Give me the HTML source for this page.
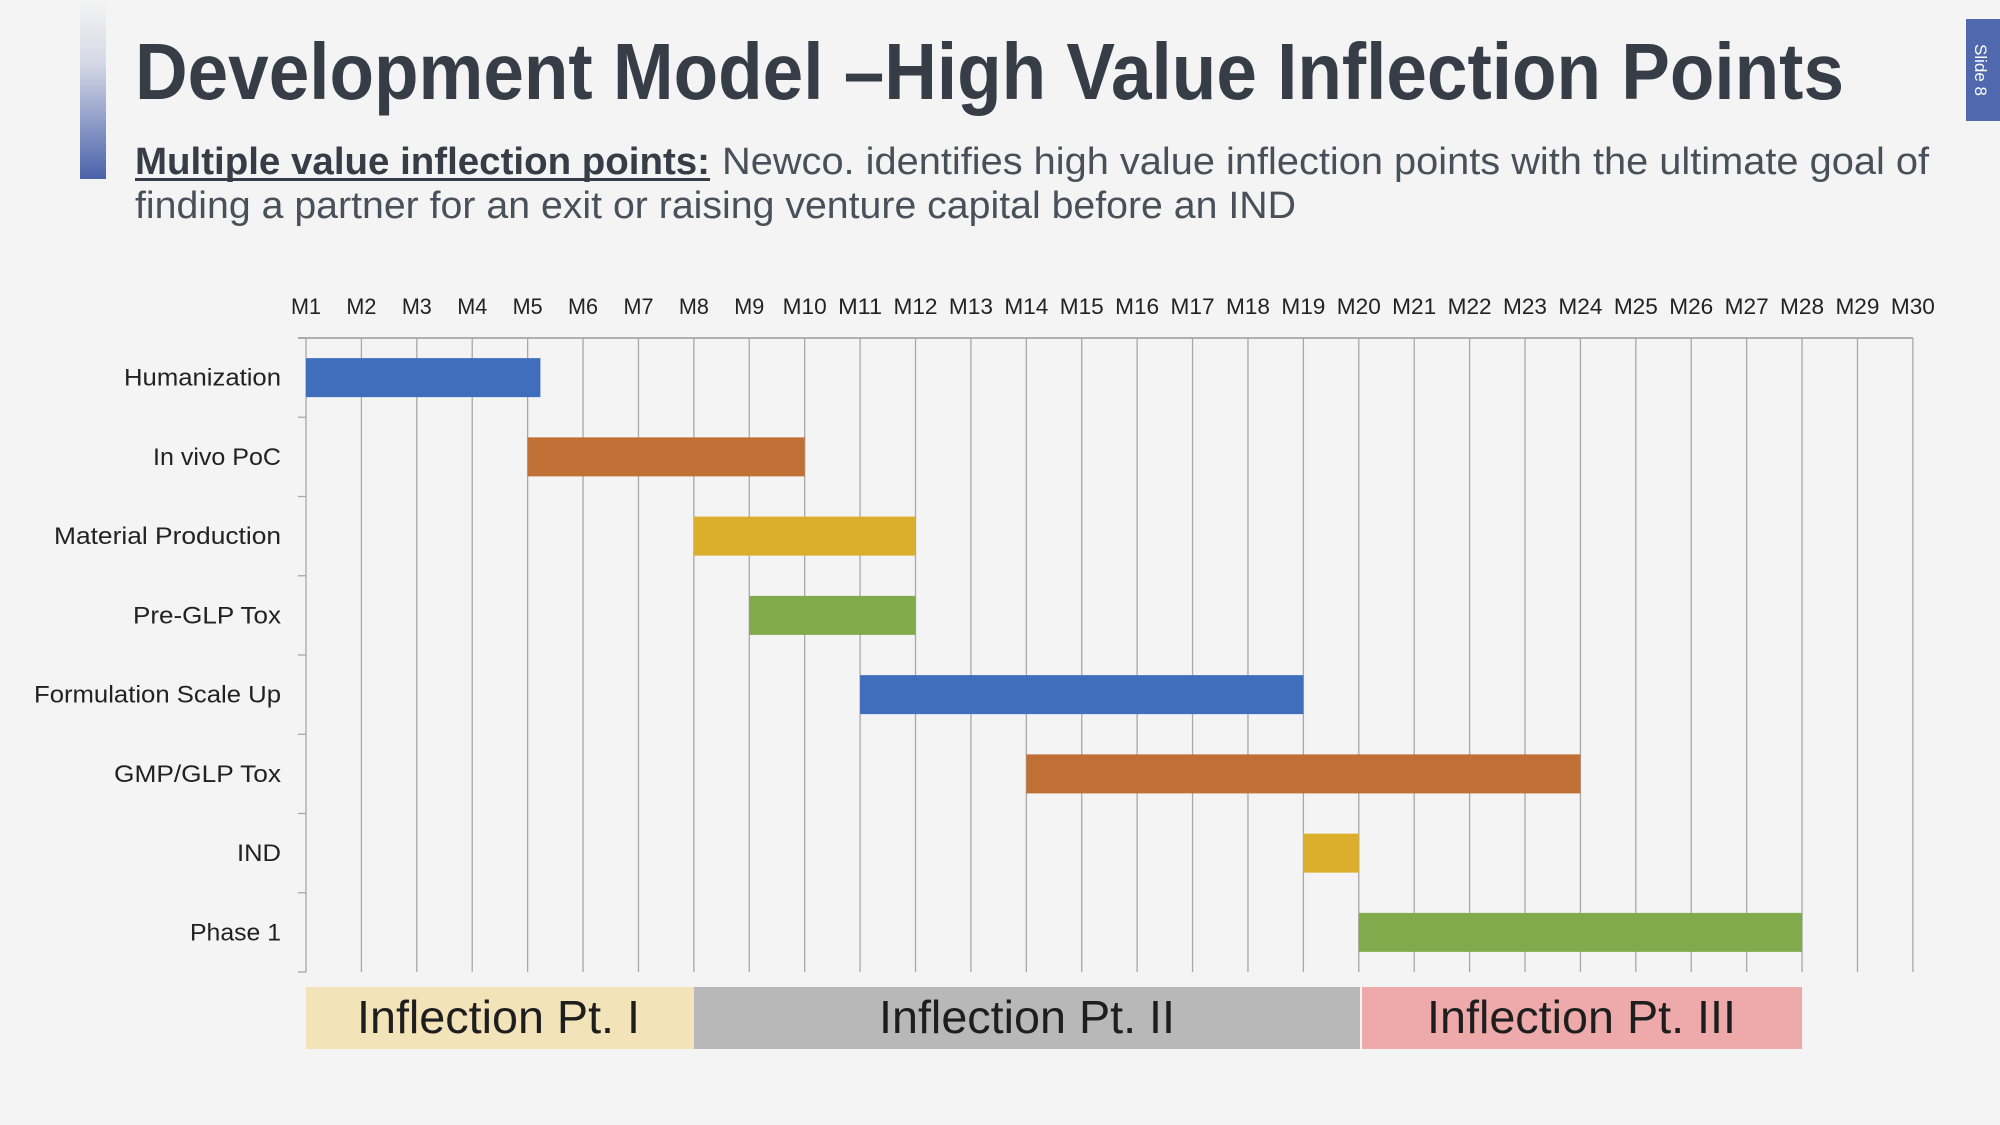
<!DOCTYPE html>
<html><head><meta charset="utf-8"><style>
html,body{margin:0;padding:0;background:#f4f4f4;}
svg{display:block;font-family:"Liberation Sans",sans-serif;}
</style></head><body>
<svg width="2000" height="1125" viewBox="0 0 2000 1125" xmlns="http://www.w3.org/2000/svg">
<defs>
<linearGradient id="lb" x1="0" y1="0" x2="0" y2="1">
<stop offset="0" stop-color="#f4f4f4"/><stop offset="0.35" stop-color="#d6d9e6"/><stop offset="1" stop-color="#4a62ab"/>
</linearGradient>
</defs>
<rect width="2000" height="1125" fill="#f4f4f4"/>
<rect x="80" y="0" width="26" height="179" fill="url(#lb)"/>
<text x="135" y="99" font-size="80" font-weight="bold" fill="#373d47" textLength="1709" lengthAdjust="spacingAndGlyphs">Development Model –High Value Inflection Points</text>
<text x="135" y="174" font-size="38" font-weight="bold" fill="#373d47" textLength="575" lengthAdjust="spacingAndGlyphs">Multiple value inflection points:</text>
<rect x="135" y="178" width="575" height="3" fill="#373d47"/>
<text x="722" y="174" font-size="38" fill="#4a505a" textLength="1207" lengthAdjust="spacingAndGlyphs">Newco. identifies high value inflection points with the ultimate goal of</text>
<text x="135" y="218" font-size="38" fill="#4a505a" textLength="1161" lengthAdjust="spacingAndGlyphs">finding a partner for an exit or raising venture capital before an IND</text>
<rect x="1966" y="19" width="34" height="102" fill="#4f68ae"/>
<text transform="translate(1975,70) rotate(90)" font-size="17" fill="#fff" text-anchor="middle">Slide 8</text>
<g id="grid" stroke="#a8a8a8" stroke-width="1.3"></g>
<g id="mon" font-size="22" fill="#222" text-anchor="middle"></g>
<g id="rows"></g>
<rect x="306" y="987" width="388" height="62" fill="#f2e3b9"/>
<rect x="694" y="987" width="666" height="62" fill="#b8b8b8"/>
<rect x="1362" y="987" width="440" height="62" fill="#eeaaaa"/>
<g font-size="46" fill="#1e1e1e">
<text x="357" y="1033" textLength="283" lengthAdjust="spacingAndGlyphs">Inflection Pt. I</text>
<text x="879" y="1033" textLength="296" lengthAdjust="spacingAndGlyphs">Inflection Pt. II</text>
<text x="1427" y="1033" textLength="309" lengthAdjust="spacingAndGlyphs">Inflection Pt. III</text>
</g>
<script>
(function(){
var ns="http://www.w3.org/2000/svg";
function X(n){return 306+(n-1)*55.41;}
function el(t,a,p,txt){var e=document.createElementNS(ns,t);for(var k in a)e.setAttribute(k,a[k]);if(txt)e.textContent=txt;p.appendChild(e);return e;}
var g=document.getElementById("grid"),m=document.getElementById("mon"),r=document.getElementById("rows");
var T=338,B=972,rh=79.25;
el("line",{x1:298,y1:T,x2:X(30),y2:T,stroke:"#b0b0b0","stroke-width":2},g);
for(var n=1;n<=30;n++){el("line",{x1:X(n),y1:T,x2:X(n),y2:B},g);
el("text",{x:X(n),y:314,textLength:n<10?30:44,lengthAdjust:"spacingAndGlyphs"},m,"M"+n);}
for(var i=0;i<=8;i++){var y=T+i*rh;el("line",{x1:298,y1:y,x2:306,y2:y},g);}
var rows=[["Humanization",1,5.23,"#3f6ebd",157],["In vivo PoC",5,10,"#c07035",128],["Material Production",8,12,"#dbae2b",227],["Pre-GLP Tox",9,12,"#80aa4c",148],["Formulation Scale Up",11,19,"#3f6ebd",247],["GMP/GLP Tox",14,24,"#c07035",167],["IND",19,20,"#dbae2b",44],["Phase 1",20,28,"#80aa4c",91]];
rows.forEach(function(d,i){var c=T+(i+0.5)*rh;
el("rect",{x:X(d[1]),y:c-19.5,width:X(d[2])-X(d[1]),height:39,fill:d[3]},r);
el("text",{x:281,y:c+8,"font-size":24,fill:"#222","text-anchor":"end",textLength:d[4],lengthAdjust:"spacingAndGlyphs"},r,d[0]);});
})();
</script>
</svg>
</body></html>
